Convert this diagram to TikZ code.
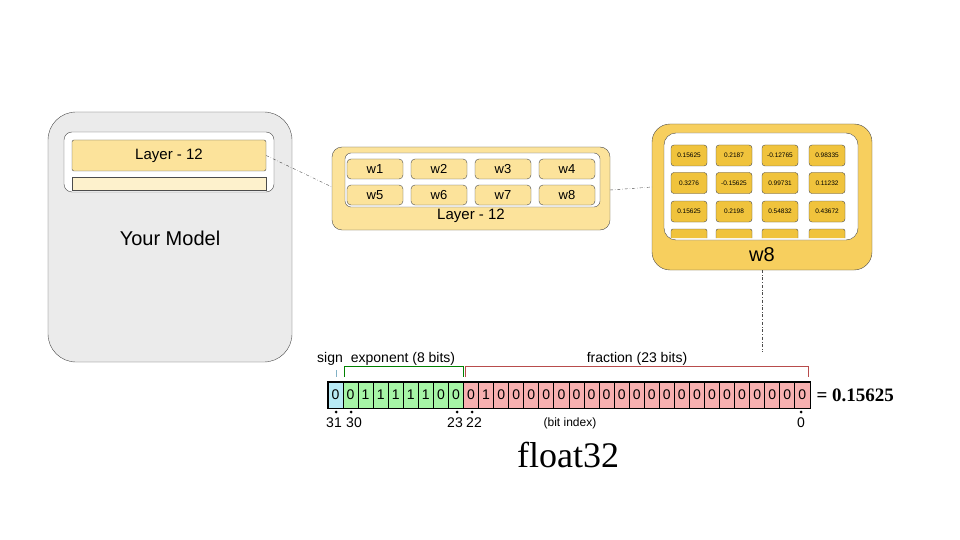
\documentclass[tikz,border=0pt]{standalone}
\usepackage{fontspec}
\setmainfont{Liberation Sans}
\newfontfamily\serif{Liberation Serif}
\definecolor{modelgrey}{HTML}{EBEBEB}
\definecolor{lightgold}{HTML}{FCE39B}
\definecolor{palegold}{HTML}{FDF1CC}
\definecolor{gold}{HTML}{F7CF5E}
\definecolor{cellgold}{HTML}{F0C33C}
\definecolor{signblue}{HTML}{B8EAF5}
\definecolor{expgreen}{HTML}{A6F5A6}
\definecolor{fracred}{HTML}{F7B0B0}
\begin{document}
\begin{tikzpicture}[x=1pt,y=-1pt,
  box/.style={draw=black!70,rounded corners=#1},
  link/.style={draw=black!70,dash dot,thin},
  wcell/.style={draw=black!70,fill=lightgold,rounded corners=4pt,minimum width=56pt,minimum height=20pt,font=\fontsize{13}{15}\selectfont},
  vcell/.style={draw=black!70,fill=cellgold,rounded corners=3pt,minimum width=36pt,minimum height=21pt,inner sep=0pt,font=\fontsize{6.5}{7}\selectfont},
  bit/.style={draw=black,thick,minimum width=15.06pt,minimum height=26pt,inner sep=0pt,font=\fontsize{14}{16}\selectfont},
  idx/.style={font=\fontsize{14}{16}\selectfont},
  dot/.style={circle,fill=black,inner sep=0pt,minimum size=3pt}]
\useasboundingbox (0,0) rectangle (960,540);
% Your Model
\draw[box=28pt,fill=modelgrey] (48,112) rectangle (292,362);
\draw[box=8pt,fill=white] (64,132) rectangle (274,192);
\node[draw=black!70,fill=lightgold,rounded corners=2pt,minimum width=194pt,minimum height=31pt,inner sep=0pt,font=\fontsize{15}{17}\selectfont] (layer) at (169,155.5) {Layer - 12};
\draw[draw=black!70,fill=palegold] (72,177) rectangle (266,190);
\node[font=\fontsize{20}{24}\selectfont] at (170,238) {Your Model};
% Layer box
\draw[box=10pt,fill=lightgold] (332,147) rectangle (610,230);
\draw[box=6pt,fill=white] (345,153) rectangle (600,207);
\foreach \t [count=\i from 0] in {w1,w2,w3,w4}
  \node[wcell] (w\i a) at (375+\i*64,169) {\t};
\foreach \t [count=\i from 0] in {w5,w6,w7,w8}
  \node[wcell] (w\i b) at (375+\i*64,195) {\t};
\node[font=\fontsize{15}{17}\selectfont] (layerlbl) at (471,216) {Layer - 12};
\coordinate (layerL) at (332,187);
\coordinate (layerR) at (610,190);
% w8 box
\draw[box=18pt,fill=gold] (652,124) rectangle (872,270);
\draw[box=12pt,fill=white] (664,133) rectangle (858,240);
\foreach \x/\y/\t in {689/155.5/0.15625,734/155.5/0.2187,780/155.5/-0.12765,827/155.5/0.98335,
  689/183/0.3276,734/183/-0.15625,780/183/0.99731,827/183/0.11232,
  689/211.5/0.15625,734/211.5/0.2198,780/211.5/0.54832,827/211.5/0.43672}
  \node[vcell] at (\x,\y) {\t};
\foreach \x in {689,734,780,827}
  \draw[draw=black!70,fill=cellgold] (\x-18,238) -- (\x-18,232) [rounded corners=2pt]-- (\x-18,229) -- (\x+18,229) [sharp corners]-- (\x+18,238);
\node[font=\fontsize{20}{24}\selectfont] (w8lbl) at (762,255) {w8};
\coordinate (w8L) at (652,187);
\coordinate (w8B) at (762,270);
\coordinate (bitsTop) at (762,352);
% connectors
\draw[link] (layer.east) -- (layerL);
\draw[link] (layerR) -- (w8L);
\draw[link] (w8B) -- (bitsTop);
% bits
\foreach \b [count=\i from 0] in {0,0,1,1,1,1,1,0,0,0,1,0,0,0,0,0,0,0,0,0,0,0,0,0,0,0,0,0,0,0,0,0}{
  \pgfmathsetmacro\xx{335.5+\i*15.06}
  \ifnum\i=0 \def\fc{signblue}\else\ifnum\i<9 \def\fc{expgreen}\else\def\fc{fracred}\fi\fi
  \node[bit,fill=\fc] (b\i) at (\xx,395) {\b};
}
\draw[thick] (b0.north west) rectangle (b31.south east);
% brackets
\draw[cyan!60!black!60] (336,370) -- (336,377);
\draw[green!50!black] (344,377) -- (344,366) -- (463,366) -- (463,377);
\draw[red!60!black!70] (465,377) -- (465,366) -- (808,366) -- (808,377);
\node[idx] at (330,359) {sign};
\node[idx] at (403,359) {exponent (8 bits)};
\node[idx] at (637,359) {fraction (23 bits)};
\foreach \x in {336,351,457,472,801}
  \node[dot] at (\x,412) {};
\node[idx] at (334,423) {31};
\node[idx] at (354,423) {30};
\node[idx] at (455,423) {23};
\node[idx] at (474,423) {22};
\node[idx] at (801,423) {0};
\node[font=\fontsize{12}{14}\selectfont] at (570,423) {(bit index)};
\node[font=\serif\bfseries\fontsize{19}{22}\selectfont,anchor=west] at (813,395) {= 0.15625};
\node[font=\serif\fontsize{36}{42}\selectfont] at (568,455) {float32};
\end{tikzpicture}
\end{document}
